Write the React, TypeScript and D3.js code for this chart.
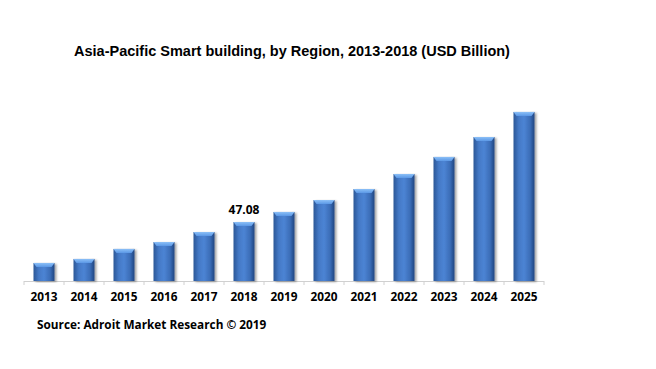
import React from 'react';
import * as d3 from 'd3';

const years = ['2013', '2014', '2015', '2016', '2017', '2018', '2019', '2020', '2021', '2022', '2023', '2024', '2025'];
const values = [14.4, 17.6, 25.6, 31.1, 39.1, 47.08, 55.1, 64.6, 73.4, 85.4, 99.0, 114.9, 134.9];
const labelledYear = '2018';

const W = 656;
const H = 369;

const App = () => {
  const x = d3.scaleBand().domain(years).range([24, 544]).paddingInner(0.475).paddingOuter(0.2375);
  const y = d3.scaleLinear().domain([0, 140]).range([281, 281 - 140 * 1.2532]);
  const bw = x.bandwidth();
  const font = '"Open Sans", "DejaVu Sans", sans-serif';

  return (
    <svg width={W} height={H} style={{ position: 'absolute', left: 0, top: 0, background: '#fff' }}>
      <defs>
        <linearGradient id="barGrad" x1="0" x2="1" y1="0" y2="0">
          <stop offset="0%" stopColor="#2b5796" />
          <stop offset="25%" stopColor="#4479c6" />
          <stop offset="50%" stopColor="#4c84d4" />
          <stop offset="80%" stopColor="#3a6cb6" />
          <stop offset="100%" stopColor="#1e4580" />
        </linearGradient>
        <linearGradient id="capGrad" x1="0" x2="0" y1="0" y2="1">
          <stop offset="0%" stopColor="#8cc0f7" />
          <stop offset="100%" stopColor="#5b98e6" />
        </linearGradient>
        <filter id="shadow" x="-30%" y="-10%" width="160%" height="120%">
          <feDropShadow dx="2" dy="1" stdDeviation="1.2" floodColor="#000" floodOpacity="0.35" />
        </filter>
      </defs>

      <text x={292} y={56} textAnchor="middle" fontFamily="Arial, 'Liberation Sans', sans-serif" fontWeight="bold" fontSize={14.5} fill="#000">
        Asia-Pacific Smart building, by Region, 2013-2018 (USD Billion)
      </text>

      {/* axis */}
      <line x1={24} x2={544} y1={281.5} y2={281.5} stroke="#d0d0d0" strokeWidth={1} />
      {years.map((yr) => {
        const bx = (x(yr) as number) - (x.step() - bw) / 2;
        return <line key={'t' + yr} x1={bx} x2={bx} y1={281} y2={285} stroke="#d0d0d0" />;
      })}
      <line x1={544} x2={544} y1={281} y2={285} stroke="#d0d0d0" />

      {years.map((yr, i) => {
        const bx = x(yr) as number;
        const top = y(values[i]);
        const h = y(0) - top;
        return (
          <g key={yr}>
            <rect x={bx} y={top} width={bw} height={h} fill="url(#barGrad)" filter="url(#shadow)" />
            <path
              d={`M${bx},${top} L${bx + bw},${top} L${bx + bw - 3},${top + 4} L${bx + 3},${top + 4} Z`}
              fill="url(#capGrad)"
            />
          </g>
        );
      })}

      {years.map((yr) => (
        <text key={'l' + yr} x={(x(yr) as number) + bw / 2} y={301} textAnchor="middle" fontFamily={font} fontWeight="bold" fontSize={11.8} fill="#000">
          {yr}
        </text>
      ))}

      {years.map((yr, i) =>
        yr === labelledYear ? (
          <text key={'v' + yr} x={(x(yr) as number) + bw / 2} y={y(values[i]) - 8} textAnchor="middle" fontFamily={font} fontWeight="bold" fontSize={12} fill="#000">
            {values[i].toFixed(2)}
          </text>
        ) : null
      )}

      <text x={37} y={329} fontFamily={font} fontWeight="bold" fontSize={11.8} fill="#000">
        Source: Adroit Market Research © 2019
      </text>
    </svg>
  );
};

export default App;
